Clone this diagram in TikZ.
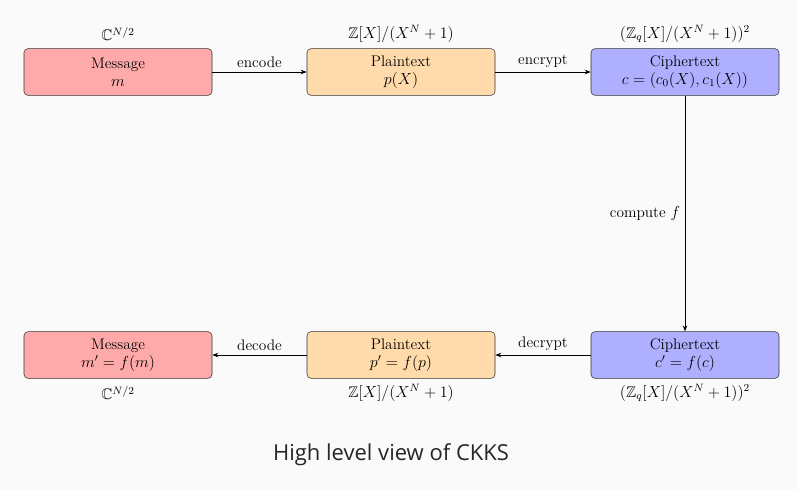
\documentclass[tikz,border=0pt]{standalone}
\usepackage{amsmath,amssymb}
\usepackage{fontspec}
\newfontfamily\capfont{Open Sans}
\usetikzlibrary{arrows.meta}
\begin{document}
\begin{tikzpicture}[x=0.75pt,y=-0.75pt,
 box/.style={draw=black!80,rounded corners=3pt,minimum width=141pt,minimum height=35pt,align=center,font=\fontsize{11.5}{13.5}\selectfont,inner sep=1pt},
 arr/.style={-{Stealth[length=4.5pt]},semithick,black},
 lab/.style={font=\fontsize{11.5}{13.5}\selectfont}]
\fill[black!2] (0,0) rectangle (797,490);
\useasboundingbox (0,0) rectangle (797,490);
\definecolor{rbox}{HTML}{FFAAAA}
\definecolor{obox}{HTML}{FFDAAA}
\definecolor{bbox}{HTML}{AFAFFF}
\node[box,fill=rbox] (m1) at (118,72) {Message\\$m$};
\node[box,fill=obox] (p1) at (401,72) {Plaintext\\$p(X)$};
\node[box,fill=bbox] (c1) at (685,72) {Ciphertext\\$c=(c_0(X),c_1(X))$};
\node[box,fill=rbox] (m2) at (118,355) {Message\\$m'=f(m)$};
\node[box,fill=obox] (p2) at (401,355) {Plaintext\\$p'=f(p)$};
\node[box,fill=bbox] (c2) at (685,355) {Ciphertext\\$c'=f(c)$};
\node[lab] (t1) at (118,34) {$\mathbb{C}^{N/2}$};
\node[lab] (t2) at (401,34) {$\mathbb{Z}[X]/(X^N+1)$};
\node[lab] (t3) at (685,34) {$(\mathbb{Z}_q[X]/(X^N+1))^2$};
\node[lab] (b1) at (118,393) {$\mathbb{C}^{N/2}$};
\node[lab] (b2) at (401,393) {$\mathbb{Z}[X]/(X^N+1)$};
\node[lab] (b3) at (685,393) {$(\mathbb{Z}_q[X]/(X^N+1))^2$};
\draw[arr] (m1) -- node[above,lab]{encode} (p1);
\draw[arr] (p1) -- node[above,lab]{encrypt} (c1);
\draw[arr] (c1) -- node[left,lab]{compute $f$} (c2);
\draw[arr] (c2) -- node[above,lab]{decrypt} (p2);
\draw[arr] (p2) -- node[above,lab]{decode} (m2);
\node[font=\capfont\fontsize{16.5}{20}\selectfont,text=black!85] (cap) at (391,455) {High level view of CKKS};
\end{tikzpicture}
\end{document}
